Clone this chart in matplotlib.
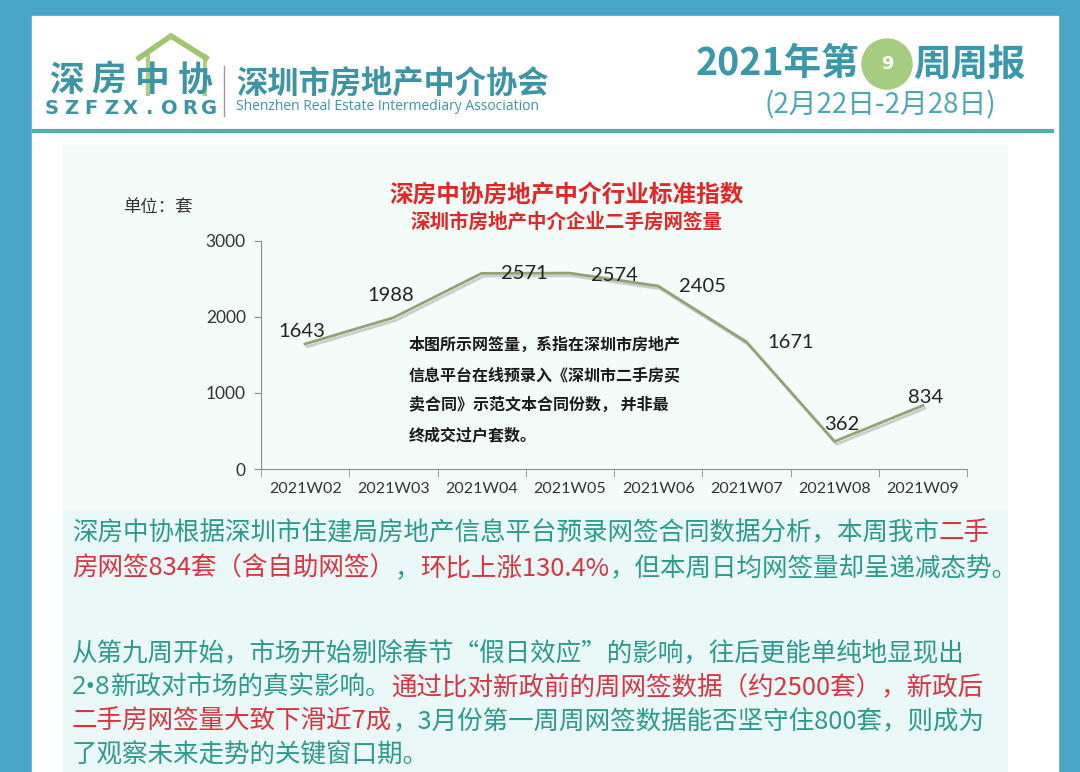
import numpy as np
import matplotlib
matplotlib.use("Agg")
import matplotlib.pyplot as plt
import matplotlib.patheffects as pe
from matplotlib.patches import Rectangle, Circle

CJK = ["Noto Sans CJK SC", "DejaVu Sans"]
NUM = ["Lato", "DejaVu Sans"]
MIX = ["Open Sans", "Noto Sans CJK SC", "DejaVu Sans"]

# chart data
weeks = ["2021W02", "2021W03", "2021W04", "2021W05",
         "2021W06", "2021W07", "2021W08", "2021W09"]
signed = [1643, 1988, 2571, 2574, 2405, 1671, 362, 834]
yticks = [0, 1000, 2000, 3000]

# texts
title1 = "深房中协房地产中介行业标准指数"
title2 = "深圳市房地产中介企业二手房网签量"
unit_label = "单位：套"
note_lines = ["本图所示网签量，系指在深圳市房地产",
              "信息平台在线预录入《深圳市二手房买",
              "卖合同》示范文本合同份数， 并非最",
              "终成交过户套数。"]

TEAL = "#2c9a8d"
RED = "#dc3340"
para_lines = [
    [("深房中协根据深圳市住建局房地产信息平台预录网签合同数据分析，本周我市", TEAL), ("二手", RED)],
    [("房网签834套（含自助网签）", RED), ("，", TEAL), ("环比上涨130.4%", RED),
     ("，但本周日均网签量却呈递减态势。", TEAL)],
    [("从第九周开始，市场开始剔除春节“假日效应”的影响，往后更能单纯地显现出", TEAL)],
    [("2•8", TEAL, MIX), ("新政对市场的真实影响。", TEAL),
     ("通过比对新政前的周网签数据（约2500套），新政后", RED)],
    [("二手房网签量大致下滑近7成", RED), ("，3月份第一周周网签数据能否坚守住800套，则成为", TEAL)],
    [("了观察未来走势的关键窗口期。", TEAL)],
]
para_y = [533, 569, 653, 688, 722, 756]

# label offsets in pixels (dx, dy)
label_off = [(-3, 12), (-3, 22), (43, 0), (45, -2), (44, -1), (44, -1), (7, 17), (3, 8)]

fig = plt.figure(figsize=(10.8, 7.72), dpi=100)
fig.patch.set_facecolor("#4aa6c6")

bg = fig.add_axes([0, 0, 1, 1])
bg.set_xlim(0, 1080)
bg.set_ylim(772, 0)
bg.axis("off")

# panels
bg.add_patch(Rectangle((32, 16), 1026, 760, color="white", zorder=0))
bg.plot([32, 1054], [131, 131], color="#4fb0ad", lw=3, solid_capstyle="butt")
bg.add_patch(Rectangle((63, 145), 944, 365, color="#f4fcfa", zorder=0))
bg.add_patch(Rectangle((63, 510), 944, 270, color="#ebf8f8", zorder=0))

# header logo
HT = "#3b95a4"
for ch, xc in zip("深房中协", np.linspace(66, 195, 4)):
    bg.text(xc, 80, ch, fontsize=25, fontweight="bold", color=HT, family=CJK,
            ha="center", va="center")
bg.plot([139, 171, 206], [58, 36, 58], color="#a2c56f", lw=4, solid_joinstyle="miter")
bg.plot([148, 148], [56, 94], color="#a2c56f", lw=3, alpha=0.85)
bg.plot([205, 205], [56, 94], color="#a2c56f", lw=3, alpha=0.85)
for ch, xc in zip("SZFZX.ORG", np.linspace(52, 209, 9)):
    bg.text(xc, 109, ch, fontsize=14, fontweight="bold", color=HT,
            ha="center", va="center", family=["DejaVu Sans"])
bg.plot([224, 224], [66, 116], color="#9a9a9a", lw=1)
bg.text(236, 84, "深圳市房地产中介协会", fontsize=22.5, fontweight="bold", color=HT,
        family=CJK, ha="left", va="center")
bg.text(236, 107, "Shenzhen Real Estate Intermediary Association", fontsize=10,
        color=HT, family=["Open Sans", "DejaVu Sans"], ha="left", va="center")

# header title
bg.text(859, 64, "2021年第", fontsize=27, fontweight="bold", color="#3b98a8",
        family=CJK, ha="right", va="center")
bg.add_patch(Circle((887, 64), 25, color="#a5cc7f"))
bg.text(887, 64, "9", fontsize=13, fontweight="bold", color="white",
        ha="center", va="center", family=["DejaVu Sans"])
bg.text(913, 64, "周周报", fontsize=27, fontweight="bold", color="#3b98a8",
        family=CJK, ha="left", va="center")
bg.text(880, 105, "(2月22日-2月28日)", fontsize=20, color="#4ea7b3",
        family=CJK, ha="center", va="center")

# chart titles and notes
bg.text(566, 195, title1, fontsize=17, fontweight="bold", color="#e32626",
        family=CJK, ha="center", va="center")
bg.text(566, 222, title2, fontsize=14, fontweight="bold", color="#e32626",
        family=CJK, ha="center", va="center")
bg.text(123, 207, unit_label, fontsize=12.5, color="#333333", family=CJK,
        ha="left", va="center")
for i, line in enumerate(note_lines):
    bg.text(409, 345 + i * 30, line, fontsize=11.5, fontweight="bold",
            color="#1a1a1a", family=CJK, ha="left", va="center")

# paragraph text with colored runs
PS = 18.4
for y, parts in zip(para_y, para_lines):
    t = None
    for part in parts:
        s, c = part[0], part[1]
        fam = part[2] if len(part) > 2 else CJK
        if t is None:
            t = bg.text(72, y, s, color=c, fontsize=PS, family=fam, va="center", ha="left")
        else:
            t = bg.annotate(s, xy=(1, 0), xycoords=t, va="bottom", ha="left",
                            color=c, fontsize=PS, family=fam)

# line chart
ax = fig.add_axes([261 / 1080, 1 - 469 / 772, 706 / 1080, (469 - 240.7) / 772])
ax.set_facecolor("none")
x = np.arange(len(weeks))
ax.plot(x, signed, color="#93a173", lw=2,
        path_effects=[pe.SimpleLineShadow(offset=(1.5, -2), alpha=0.18), pe.Normal()])
for xi, v, (dx, dy) in zip(x, signed, label_off):
    ax.annotate(str(v), (xi, v), xytext=(dx, dy), textcoords="offset pixels",
                ha="center", va="center", fontsize=14.5, color="#222222", family=NUM)

ax.set_xlim(-0.5, len(weeks) - 0.5)
ax.set_ylim(0, 3000)
ax.set_yticks(yticks)
ax.set_yticklabels([str(t) for t in yticks], fontsize=12.5, color="#333333", family=NUM)
ax.set_xticks(x)
ax.set_xticklabels(weeks, fontsize=11.5, color="#333333", family=NUM)
ax.set_xticks(np.arange(-0.5, len(weeks)), minor=True)
ax.tick_params(axis="x", which="major", length=0, pad=9)
ax.tick_params(axis="x", which="minor", length=6, direction="out", color="#8c8c8c")
ax.tick_params(axis="y", length=5, direction="out", color="#8c8c8c", pad=6)
for side in ("top", "right"):
    ax.spines[side].set_visible(False)
for side in ("left", "bottom"):
    ax.spines[side].set_color("#8c8c8c")

fig.savefig("out.png", dpi=100, facecolor=fig.get_facecolor())
